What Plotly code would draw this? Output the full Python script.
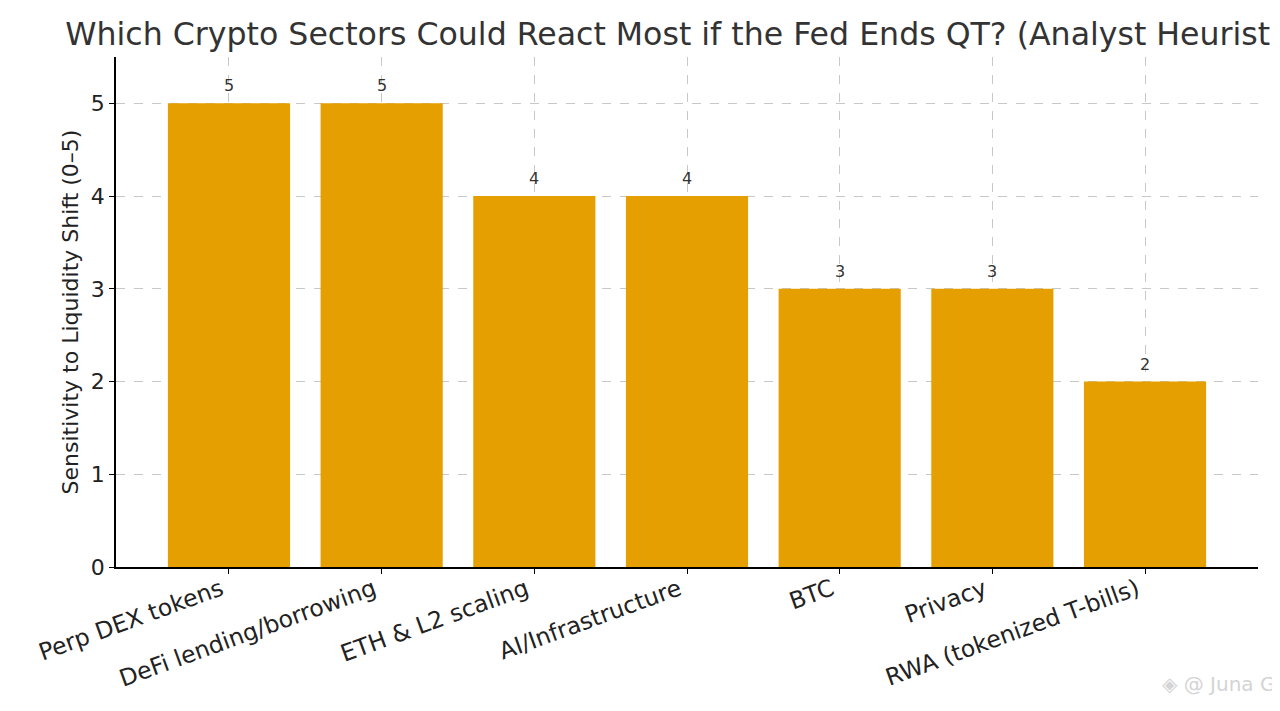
import plotly.graph_objects as go

categories = ["Perp DEX tokens", "DeFi lending/borrowing", "ETH & L2 scaling",
              "AI/Infrastructure", "BTC", "Privacy", "RWA (tokenized T-bills)"]
scores = [5, 5, 4, 4, 3, 3, 2]
y_ticks = [0, 1, 2, 3, 4, 5]

title_text = "Which Crypto Sectors Could React Most if the Fed Ends QT? (Analyst Heuristic)"
y_title = "Sensitivity to Liquidity Shift (0–5)"
bar_color = "#E69F00"
font_family = "DejaVu Sans"

x_idx = list(range(len(categories)))

fig = go.Figure()
fig.add_trace(go.Bar(
    x=x_idx, y=scores, width=0.8,
    marker=dict(color=bar_color, line=dict(width=0)),
    showlegend=False, hoverinfo="skip",
))

for xi, v in zip(x_idx, scores):
    fig.add_annotation(x=xi, y=v, text=str(v), showarrow=False,
                       yanchor="bottom", yshift=6,
                       font=dict(size=16, color="#333333", family=font_family))

fig.add_annotation(xref="paper", yref="paper", x=1.0, y=-0.235,
                   xanchor="left", yanchor="middle", xshift=-98, yshift=3,
                   text="◈ @ Juna G", showarrow=False,
                   font=dict(size=20, color="#d4d4d4", family=font_family))

fig.update_layout(
    width=1280, height=711,
    paper_bgcolor="white", plot_bgcolor="white",
    margin=dict(l=108, r=30, t=49, b=152, autoexpand=False),
    font=dict(family=font_family, color="#222222"),
    title=dict(text=title_text, x=0.5, xref="paper", xanchor="center",
               y=1 - 26 / 711, yanchor="middle", yref="container",
               font=dict(size=31.6, color="#333333", family=font_family)),
    bargap=0.2,
)

fig.update_xaxes(
    range=[-0.74, 6.74], tickmode="array", tickvals=x_idx, ticktext=categories,
    tickangle=-20, tickfont=dict(size=23.5, color="#222222"),
    ticklabelshift=-8, ticklabelstandoff=-7,
    showline=True, linecolor="black", linewidth=1.5,
    ticks="outside", ticklen=5, tickcolor="black", tickwidth=1.2,
    showgrid=True, gridcolor="#c8c8c8", griddash="dash", gridwidth=1,
    layer="above traces", zeroline=False, automargin=False,
)
fig.update_yaxes(
    range=[0, 5.5], tickmode="array", tickvals=y_ticks,
    tickfont=dict(size=22, color="#222222"),
    title=dict(text=y_title, font=dict(size=22, color="#222222"), standoff=6),
    showline=True, linecolor="black", linewidth=1.5,
    ticks="outside", ticklen=5, tickcolor="black", tickwidth=1.2,
    showgrid=True, gridcolor="#c8c8c8", griddash="dash", gridwidth=1,
    layer="above traces", zeroline=False, automargin=False,
)

fig.write_html("out.html")
